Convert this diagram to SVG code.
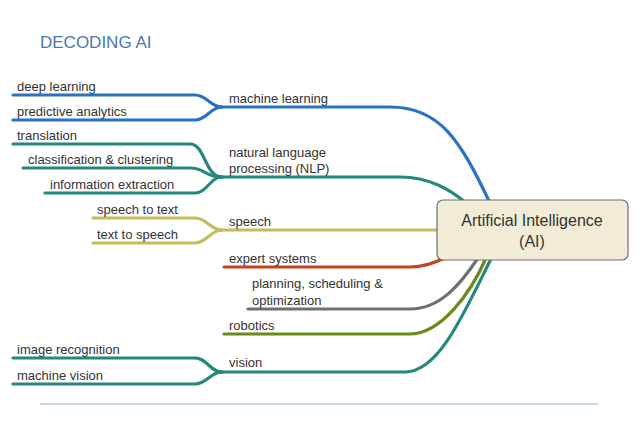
<svg xmlns="http://www.w3.org/2000/svg" width="638" height="442" viewBox="0 0 638 442">
<style>
text{font-family:"Liberation Sans",Arial,sans-serif;font-size:13px;fill:#333}
.c path{fill:none;stroke-width:3.2;stroke-linecap:round}
.b{stroke:#2a72c2}.t{stroke:#24887c}.y{stroke:#c4bb5c}.r{stroke:#c4431f}.g{stroke:#707070}.o{stroke:#6a8a1a}
</style>
<rect width="638" height="442" fill="#fff"/>
<text x="40" y="48" style="font-size:17px;fill:#4a78b2">DECODING AI</text>
<line x1="40" y1="404" x2="598" y2="404" stroke="#8fb0d8" stroke-width="1"/>
<g class="c" id="connectors">
<path class="b" d="M13 95H195C207 95 210 107 222 107"/>
<path class="b" d="M13 120H195C207 120 210 107 222 107"/>
<path class="b" d="M220 107H390C440 107 460 140 490 203"/>
<path class="t" d="M13 144H190C205 144 205 177 222 177"/>
<path class="t" d="M23 168H190C205 168 205 177 222 177"/>
<path class="t" d="M45 193H195C207 193 210 177 222 177"/>
<path class="t" d="M220 177H400C430 177 450 190 465 202"/>
<path class="y" d="M93 218H195C207 218 210 230 222 230"/>
<path class="y" d="M93 243H195C207 243 210 230 222 230"/>
<path class="y" d="M220 230H440"/>
<path class="r" d="M224 267H410C425 267 435 262 445 258"/>
<path class="g" d="M248 309H410C440 309 460 285 478 258"/>
<path class="o" d="M224 334H410C440 334 470 295 486 258"/>
<path class="t" d="M13 358H195C207 358 210 372 222 372"/>
<path class="t" d="M13 384H195C207 384 210 372 222 372"/>
<path class="t" d="M220 372H405C440 372 465 310 493 255"/>
</g>
<g id="n-ai"><rect x="437" y="200" width="191" height="60" rx="6" fill="#f2ecd6" stroke="#6f6f6f" stroke-width="1.2"/>
<text x="532" y="226" text-anchor="middle" style="font-size:16px">Artificial Intelligence</text>
<text x="532" y="247" text-anchor="middle" style="font-size:16px">(AI)</text></g>
<g id="n-ml"><text x="229" y="103">machine learning</text></g>
<g id="n-dl"><text x="17" y="91">deep learning</text></g>
<g id="n-pa"><text x="17" y="116">predictive analytics</text></g>
<g id="n-nlp"><text x="229" y="157">natural language</text><text x="229" y="173">processing (NLP)</text></g>
<g id="n-tr"><text x="17" y="140">translation</text></g>
<g id="n-cc"><text x="28" y="164">classification &amp; clustering</text></g>
<g id="n-ie"><text x="50" y="189">information extraction</text></g>
<g id="n-sp"><text x="229" y="226">speech</text></g>
<g id="n-stt"><text x="97" y="214">speech to text</text></g>
<g id="n-tts"><text x="97" y="239">text to speech</text></g>
<g id="n-es"><text x="229" y="263">expert systems</text></g>
<g id="n-pl"><text x="252" y="288">planning, scheduling &amp;</text><text x="252" y="305">optimization</text></g>
<g id="n-ro"><text x="229" y="330">robotics</text></g>
<g id="n-vi"><text x="229" y="367">vision</text></g>
<g id="n-ir"><text x="17" y="354">image recognition</text></g>
<g id="n-mv"><text x="17" y="380">machine vision</text></g>
</svg>
